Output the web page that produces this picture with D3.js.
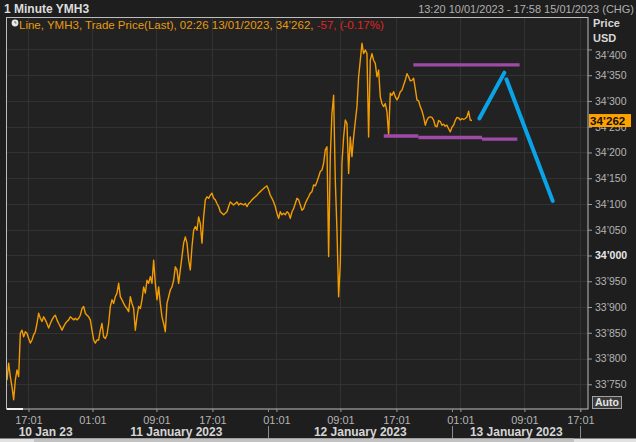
<!DOCTYPE html>
<html><head><meta charset="utf-8">
<script src="https://cdn.jsdelivr.net/npm/d3@7"></script>
<style>
html,body{margin:0;padding:0;background:#1e1e1e;}
svg{display:block;font-family:"Liberation Sans",Arial,sans-serif;}
</style></head><body>
<svg id="c" width="636" height="442"></svg>
<script>
// ---------------- data ----------------
const seriesStart = "2023-01-10T13:20";
const viewEnd = "2023-01-15T17:58";
const stepMinutes = 12.5; // trading minutes between samples
const prices = [
33758,33791,33765,33745,33720,33758,33778,33765,33849,33855,
33842,33852,33849,33839,33830,33836,33846,33852,33868,33888,
33878,33872,33881,33875,33868,33859,33868,33875,33881,33884,
33875,33868,33862,33855,33862,33868,33872,33875,33881,33878,
33875,33878,33875,33878,33884,33897,33901,33888,33884,33881,
33875,33855,33836,33830,33836,33836,33855,33868,33842,33839,
33846,33868,33901,33914,33907,33920,33927,33946,33920,33914,
33907,33901,33897,33891,33920,33907,33897,33855,33881,33901,
33897,33914,33939,33927,33952,33946,33959,33946,33991,33946,
33914,33939,33907,33881,33868,33852,33907,33920,33933,33939,
33952,33978,33972,33946,33972,33998,34024,34036,34024,33991,
33972,34017,34049,34056,34049,34075,34062,34024,34075,34108,
34114,34111,34117,34121,34111,34108,34101,34095,34085,34082,
34079,34082,34085,34095,34104,34101,34098,34101,34104,34098,
34101,34100,34098,34101,34095,34101,34104,34108,34111,34114,
34117,34121,34124,34127,34130,34133,34135,34127,34117,34111,
34104,34095,34082,34072,34085,34079,34082,34079,34085,34082,
34072,34085,34091,34101,34111,34108,
34098,34088,34091,34101,34108,34114,34121,34124,34137,34135,
34143,34153,34163,34166,34179,34205,34211,33998,34192,34276,
34311,34146,34049,33920,33985,34179,34230,34263,34256,34159,
34230,34192,34230,34260,34289,34347,34379,34412,34392,34399,
34392,34230,34379,34392,34379,34373,34347,34360,34308,34295,
34289,34295,34279,34234,34315,34311,34318,34308,34302,34308,
34318,34321,34331,34340,34353,34347,34339,34340,34344,34324,
34302,34300,34289,34281,34269,34253,34263,34268,34269,34268,
34263,34251,34250,34262,34260,34253,34255,34251,34253,34246,
34240,34249,34253,34262,34268,34267,34263,34266,34264,34266,
34269,34280,34263,34262
];
const lastPrice = 34262;
const yTicks = [33750,33800,33850,33900,33950,34000,34050,34100,34150,34200,34250,34300,34350,34400];
const xTickTimes = ["2023-01-10T17:01","2023-01-11T01:01","2023-01-11T09:01","2023-01-11T17:01",
  "2023-01-12T01:01","2023-01-12T09:01","2023-01-12T17:01","2023-01-13T01:01","2023-01-13T09:01","2023-01-15T17:01"];
const dayLabels = ["10 Jan 23","11 January 2023","12 January 2023","13 January 2023"];
const dayStarts = ["2023-01-10T13:20","2023-01-11T00:00","2023-01-12T00:00","2023-01-13T00:00"];
const dayEnds   = ["2023-01-11T00:00","2023-01-12T00:00","2023-01-13T00:00","2023-01-13T16:00"];
const daySeparators = ["2023-01-12T00:00","2023-01-13T00:00","2023-01-15T17:00"];
const closedPeriods = [["2023-01-10T16:00","2023-01-10T17:00"],["2023-01-11T16:00","2023-01-11T17:00"],
  ["2023-01-12T16:00","2023-01-12T17:00"],["2023-01-13T16:00","2023-01-15T17:00"]];
const purpleLines = [
  [["2023-01-12T19:08",34370],["2023-01-13T08:25",34370]],
  [["2023-01-12T14:26",34232],["2023-01-12T19:45",34232]],
  [["2023-01-12T19:45",34229],["2023-01-13T03:43",34229]],
  [["2023-01-13T03:43",34226],["2023-01-13T08:08",34226]]
];
const blueLines = [
  [["2023-01-13T03:23",34266],["2023-01-13T06:31",34355]],
  [["2023-01-13T06:46",34342],["2023-01-13T12:33",34106]]
];

// ---------------- helpers ----------------
const parse = d3.timeParse("%Y-%m-%dT%H:%M");
const t0 = parse(seriesStart);
const closed = closedPeriods.map(p => p.map(parse));
function tradingHours(s){
  const d = typeof s === "string" ? parse(s) : s;
  let h = (d - t0)/3.6e6;
  closed.forEach(([a,b]) => { if (d > a) h -= (Math.min(d,b) - a)/3.6e6; });
  return h;
}
const fmtPrice = v => { const s = String(v); return s.slice(0, s.length-3) + "\u2019" + s.slice(-3); };

// ---------------- layout ----------------
const W = 636, H = 442;
const plot = {l:6.5, t:17.5, r:588, b:409};
const svg = d3.select("#c");
const x = d3.scaleLinear().domain([0, tradingHours(viewEnd)]).range([7, plot.r]);
const y = d3.scaleLinear().domain([33702, 34463]).range([plot.b, plot.t - 0.5]);

svg.append("rect").attr("width",W).attr("height",H).attr("fill","#1e1e1e");
svg.append("rect").attr("x",plot.l).attr("y",plot.t).attr("width",plot.r-plot.l).attr("height",plot.b-plot.t).attr("fill","#222222");

// grid
const grid = svg.append("g");
grid.selectAll("line.h").data(yTicks).join("line")
  .attr("x1",plot.l).attr("x2",plot.r).attr("y1",d=>Math.round(y(d))+0.5).attr("y2",d=>Math.round(y(d))+0.5)
  .attr("stroke","#323232");
grid.selectAll("line.v").data(xTickTimes).join("line")
  .attr("x1",d=>Math.round(x(tradingHours(d)))+0.5).attr("x2",d=>Math.round(x(tradingHours(d)))+0.5)
  .attr("y1",plot.t).attr("y2",plot.b).attr("stroke","#323232");

// clip
svg.append("clipPath").attr("id","clip").append("rect")
  .attr("x",plot.l).attr("y",plot.t).attr("width",plot.r-plot.l).attr("height",plot.b-plot.t);

// series
const line = d3.line().x((d,i)=>x(i*stepMinutes/60)).y(d=>y(d));
svg.append("path").datum(prices).attr("clip-path","url(#clip)")
  .attr("d",line).attr("fill","none").attr("stroke","#f29c00").attr("stroke-width",1.4)
  .attr("stroke-linejoin","round");

// annotations
const seg = d3.line().x(d=>x(tradingHours(d[0]))).y(d=>y(d[1]));
svg.append("g").selectAll("path").data(purpleLines).join("path")
  .attr("d",seg).attr("stroke","#a04aa8").attr("stroke-width",3.4).attr("fill","none").attr("stroke-linecap","butt");
svg.append("g").selectAll("path").data(blueLines).join("path")
  .attr("d",seg).attr("stroke","#0aa3e6").attr("stroke-width",4).attr("fill","none").attr("stroke-linecap","round");

// frame
svg.append("rect").attr("x",plot.l).attr("y",plot.t).attr("width",plot.r-plot.l).attr("height",plot.b-plot.t)
  .attr("fill","none").attr("stroke","#bdbdbd").attr("stroke-width",1);
svg.append("line").attr("x1",7).attr("x2",23).attr("y1",409).attr("y2",409).attr("stroke","#f0f0f0").attr("stroke-width",2);

// y axis
const yAxis = d3.axisRight(y).tickValues(yTicks).tickSize(4).tickPadding(3).tickFormat(fmtPrice);
const gy = svg.append("g").attr("transform",`translate(${plot.r},0)`).call(yAxis);
gy.select(".domain").remove();
gy.selectAll(".tick line").attr("stroke","#9a9a9a");
gy.selectAll(".tick text").attr("font-size",10.5)
  .attr("font-family","Liberation Sans, Arial, sans-serif")
  .attr("font-weight",d=>d===34000?"bold":"normal")
  .attr("fill",d=>d===34000?"#e8e8e8":"#b4b4b4")
  .attr("dy",d=>d===34400?"0.85em":"0.32em");

// price / USD
svg.append("text").attr("x",593).attr("y",27).text("Price").attr("fill","#d8d8d8").attr("font-weight","bold").attr("font-size",11);
svg.append("text").attr("x",593).attr("y",42).text("USD").attr("fill","#d8d8d8").attr("font-weight","bold").attr("font-size",11);

// last price box (covers most of the 34'250 label, as in the source)
const ly = y(lastPrice);
svg.append("rect").attr("x",589).attr("y",ly-6.5).attr("width",42).attr("height",13).attr("fill","#ffa200");
svg.append("text").attr("x",590).attr("y",ly+4).text(fmtPrice(lastPrice)).attr("fill","#111")
  .attr("font-weight","bold").attr("font-size",11.5);

// Auto button
svg.append("rect").attr("x",592.5).attr("y",396.5).attr("width",29).attr("height",12).attr("fill","#3a3a3a").attr("stroke","#a0a0a0");
svg.append("text").attr("x",607).attr("y",406).attr("text-anchor","middle").text("Auto")
  .attr("fill","#e6e6e6").attr("font-weight","bold").attr("font-size",10.5);

// x axis
const xAxis = d3.axisBottom(x).tickValues(xTickTimes.map(tradingHours)).tickSize(3).tickPadding(4)
  .tickFormat((d,i)=>xTickTimes[i].slice(11));
const gx = svg.append("g").attr("transform",`translate(0,${plot.b})`).call(xAxis);
gx.select(".domain").remove();
gx.selectAll(".tick line").attr("stroke","#9a9a9a");
gx.selectAll(".tick text").attr("fill","#b4b4b4").attr("font-size",11).attr("font-family","Liberation Sans, Arial, sans-serif");

// day labels & separators
svg.append("g").selectAll("text").data(dayLabels).join("text")
  .attr("x",(d,i)=>(x(tradingHours(dayStarts[i]))+x(tradingHours(dayEnds[i])))/2)
  .attr("y",436).attr("text-anchor","middle").text(d=>d)
  .attr("fill","#d6d6d6").attr("font-weight","bold").attr("font-size",12);
const sepG = svg.append("g");
sepG.selectAll("line.a").data(daySeparators).join("line")
  .attr("x1",d=>Math.round(x(tradingHours(d)))+0.5).attr("x2",d=>Math.round(x(tradingHours(d)))+0.5)
  .attr("y1",426).attr("y2",438).attr("stroke","#8c8c8c");
sepG.selectAll("line.b").data(daySeparators).join("line")
  .attr("x1",d=>Math.round(x(tradingHours(d)))+0.5).attr("x2",d=>Math.round(x(tradingHours(d)))+0.5)
  .attr("y1",409).attr("y2",412).attr("stroke","#8c8c8c");

// bottom scrollbar strip
svg.append("rect").attr("x",0).attr("y",438.5).attr("width",W).attr("height",4).attr("fill","#e2e2e2");
svg.append("rect").attr("x",34).attr("y",438.5).attr("width",540).attr("height",4).attr("fill","#c2c2c2");

// header
svg.append("text").attr("x",4).attr("y",13).text("1 Minute YMH3").attr("fill","#dcdcdc").attr("font-weight","bold").attr("font-size",12);
svg.append("text").attr("x",634).attr("y",13).attr("text-anchor","end").text("13:20 10/01/2023 - 17:58 15/01/2023 (CHG)")
  .attr("fill","#b0b0b0").attr("font-size",11);

// legend
const lg = svg.append("g");
lg.append("circle").attr("cx",15).attr("cy",23).attr("r",3.4).attr("fill","#e8e8e8");
lg.append("path").attr("d","M15,21 L15,23 L16.5,23").attr("stroke","#555").attr("stroke-width",0.8).attr("fill","none");
const lt = lg.append("text").attr("x",19).attr("y",29).attr("font-size",11.5);
lt.append("tspan").attr("fill","#e89a10").text("Line, YMH3, Trade Price(Last), 02:26 13/01/2023, " + fmtPrice(lastPrice) + ", ");
lt.append("tspan").attr("fill","#e02424").text("-57, (-0.17%)");
</script>
</body></html>
